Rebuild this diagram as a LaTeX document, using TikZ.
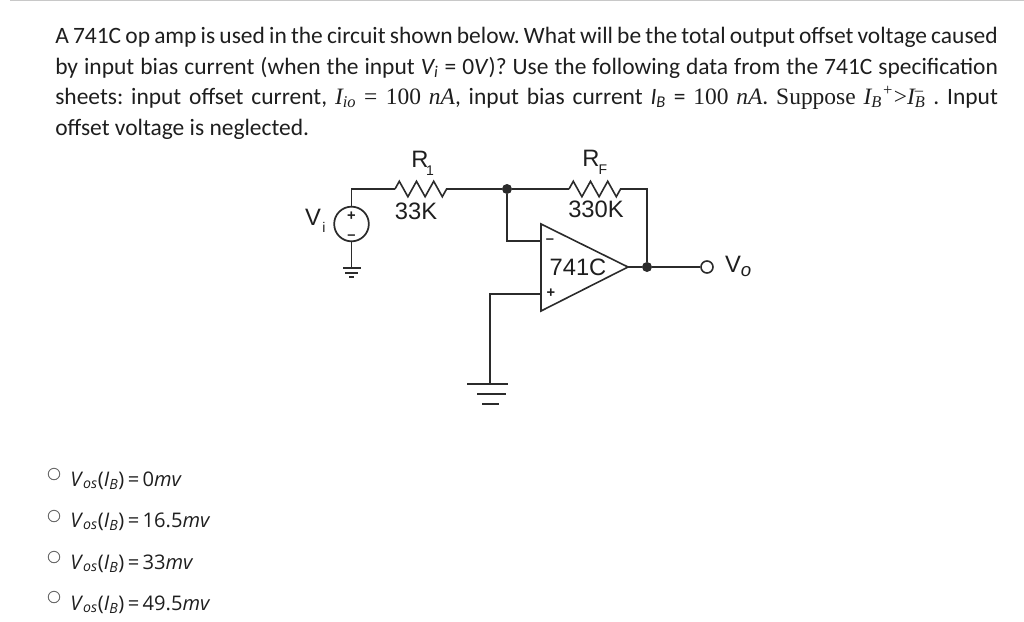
\documentclass[tikz,border=0pt]{standalone}
\usepackage{fontspec}
\setmainfont{Carlito}
\newfontfamily\serifpart{Liberation Serif}
\newfontfamily\circuitfont{Liberation Sans}
\newfontfamily\answerfont{Open Sans}
\usetikzlibrary{decorations.pathmorphing}

\definecolor{inkcolor}{HTML}{1E1E1E}
\definecolor{wirecolor}{HTML}{2B2B2B}
\definecolor{radiocolor}{HTML}{6A6A6A}
\definecolor{rulecolor}{HTML}{C8C8C8}

\newcommand{\qline}[1]{\makebox[707pt][s]{#1}}
\newcommand{\cam}[1]{{\serifpart #1}}
\newcommand{\camit}[1]{{\serifpart\itshape #1}}
\newcommand{\anssub}[1]{\textsubscript{\itshape #1}}
\newcommand{\vosib}{\textit{V}\anssub{os}(\textit{I}\anssub{B})\,=\,}

\tikzset{
  wire/.style={draw=wirecolor, line width=1.2pt},
  resistorline/.style={wire, decorate, decoration={zigzag, segment length=12.9pt, amplitude=5.8pt}},
  junction/.style={circle, fill=wirecolor, inner sep=0pt, minimum size=7.5pt},
  terminal/.style={circle, draw=wirecolor, line width=1.2pt, fill=white, inner sep=0pt, minimum size=9pt},
  source/.style={circle, draw=wirecolor, line width=1.3pt, inner sep=0pt, minimum size=26pt},
  qtext/.style={anchor=base west, inner sep=0pt, text=inkcolor, font=\fontsize{17.6pt}{20pt}\selectfont},
  ctext/.style={inner sep=0pt, text=inkcolor, font=\circuitfont\fontsize{17.8pt}{20pt}\selectfont},
  csub/.style={inner sep=0pt, text=inkcolor, font=\circuitfont\fontsize{10.5pt}{12pt}\selectfont},
  signtext/.style={inner sep=0pt, text=inkcolor, font=\circuitfont\bfseries\fontsize{11pt}{12pt}\selectfont},
  radio/.style={circle, draw=radiocolor, line width=0.7pt, inner sep=0pt, minimum size=8.6pt},
  answer/.style={anchor=base west, inner sep=0pt, text=inkcolor, font=\answerfont\fontsize{15.1pt}{18pt}\selectfont},
}

\begin{document}
\frenchspacing
\begin{tikzpicture}[x=0.75pt, y=-0.75pt]
    \useasboundingbox (0,0) rectangle (1024,621);

    % Rule along the top
    \coordinate (ruleleft) at (10,0.7);
    \coordinate (ruleright) at (1024,0.7);
    \draw[rulecolor, line width=0.9pt] (ruleleft) -- (ruleright);

    % Question
    \node[qtext] (line1) at (55,43) {\qline{A 741C op amp is used in the circuit shown below. What will be the total output offset voltage caused}};
    \node[qtext] (line2) at (55,74) {\qline{by input bias current (when the input \textit{V\textsubscript{i}} = 0\textit{V})? Use the following data from the 741C specification}};
    \node[qtext] (line3) at (55,104) {\qline{sheets: input offset current, \camit{I\textsubscript{io}} \cam{= 100} \camit{nA}, input bias current \textit{I\textsubscript{B}} = \cam{100} \camit{nA}. \cam{Suppose} \camit{I\textsubscript{B}\textsuperscript{+}}\cam{>}\camit{I\rlap{\textsuperscript{–}}\textsubscript{B}} . Input}};
    \node[qtext] (line4) at (55,135) {offset voltage is neglected.};

    % Input source and R1
    \node[source] (vi) at (351.5,224) {};
    \coordinate (vitop) at (351.5,189);
    \coordinate (r1in) at (395,189);
    \coordinate (r1out) at (447,189);
    \node[junction] (nodea) at (507,189) {};
    \draw[wire] (vi.north) -- (vitop) -- (r1in);
    \draw[resistorline] (r1in) -- (r1out);
    \draw[wire] (r1out) -- (nodea);

    % Ground of the source
    \coordinate (gnda1) at (351.5,268);
    \coordinate (gnda1l) at (343,268);
    \coordinate (gnda1r) at (361,268);
    \coordinate (gnda2l) at (345,273);
    \coordinate (gnda2r) at (358,273);
    \coordinate (gnda3l) at (349,277);
    \coordinate (gnda3r) at (354,277);
    \draw[wire] (vi.south) -- (gnda1);
    \draw[wire] (gnda1l) -- (gnda1r);
    \draw[wire] (gnda2l) -- (gnda2r);
    \draw[wire] (gnda3l) -- (gnda3r);

    % Op amp
    \coordinate (optop) at (541,224);
    \coordinate (opbot) at (541,311);
    \coordinate (optip) at (628,267);
    \coordinate (opminus) at (541,241);
    \coordinate (opplus) at (541,294);
    \draw[wire, line join=miter] (optop) -- (optip) -- (opbot) -- cycle;

    % Feedback
    \coordinate (rfin) at (569,189);
    \coordinate (rfout) at (621,189);
    \coordinate (rfcorner) at (647,189);
    \coordinate (minuscorner) at (507,241);
    \node[junction] (nodeb) at (647,267) {};
    \draw[wire] (nodea) -- (rfin);
    \draw[resistorline] (rfin) -- (rfout);
    \draw[wire] (rfout) -- (rfcorner) -- (nodeb);
    \draw[wire] (nodea) -- (minuscorner) -- (opminus);

    % Output
    \node[terminal] (vout) at (707,267) {};
    \draw[wire] (optip) -- (nodeb) -- (vout);

    % Non-inverting input to ground
    \coordinate (pluscorner) at (490,294);
    \coordinate (gndb1) at (490,384);
    \coordinate (gndb1l) at (467,384);
    \coordinate (gndb1r) at (508,384);
    \coordinate (gndb2l) at (477,394);
    \coordinate (gndb2r) at (506,394);
    \coordinate (gndb3l) at (482,404);
    \coordinate (gndb3r) at (499,404);
    \draw[wire] (opplus) -- (pluscorner) -- (gndb1);
    \draw[wire] (gndb1l) -- (gndb1r);
    \draw[wire] (gndb2l) -- (gndb2r);
    \draw[wire] (gndb3l) -- (gndb3r);

    % Circuit labels
    \node[ctext] (labelr1) at (420,159) {R};
    \node[csub] (labelr1sub) at (430,171) {1};
    \node[ctext] (value1) at (416,211) {33K};
    \node[ctext] (labelrf) at (591,158) {R};
    \node[csub] (labelrfsub) at (603,170) {F};
    \node[ctext] (valuef) at (596,209) {330K};
    \node[ctext] (labelv) at (313,217) {V};
    \node[csub] (labelvsub) at (324,227) {i};
    \node[signtext] (srcplus) at (351.5,216) {+};
    \node[signtext] (srcminus) at (351.5,237) {–};
    \node[ctext] (labelop) at (578,267) {741C};
    \node[signtext] (opminussign) at (550,241) {–};
    \node[signtext] (opplussign) at (551,293) {+};
    \node[ctext] (labelvo) at (733,264) {V};
    \node[csub, font=\circuitfont\itshape\fontsize{14pt}{16pt}\selectfont] (labelvosub) at (746,272) {o};

    % Answers
    \node[radio] (radio1) at (54,474) {};
    \node[answer] (ans1) at (70,486) {\vosib 0\textit{mv}};
    \node[radio] (radio2) at (54,516) {};
    \node[answer] (ans2) at (70,527) {\vosib 16.5\textit{mv}};
    \node[radio] (radio3) at (54,557) {};
    \node[answer] (ans3) at (70,569) {\vosib 33\textit{mv}};
    \node[radio] (radio4) at (54,597) {};
    \node[answer] (ans4) at (70,610) {\vosib 49.5\textit{mv}};
\end{tikzpicture}
\end{document}
